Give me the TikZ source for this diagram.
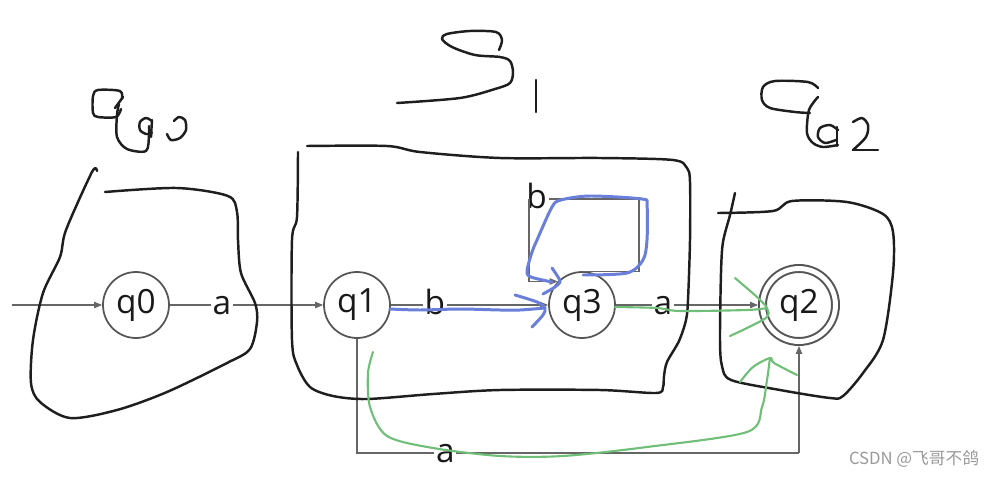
\documentclass[tikz,border=0pt]{standalone}
\usepackage{fontspec}
\setmainfont{Open Sans}
\newfontfamily\cjk{Noto Sans CJK SC}
\usetikzlibrary{arrows.meta}

\definecolor{stgray}{HTML}{555555}
\definecolor{penblue}{HTML}{6A7FD9}
\definecolor{pengreen}{HTML}{6FBF78}
\definecolor{penblack}{HTML}{1E1E1E}

\begin{document}
\begin{tikzpicture}[
    x=0.02cm, y=-0.02cm,
    st/.style={draw=stgray, circle, line width=1pt, minimum size=1.32cm, inner sep=0pt, font=\fontsize{19}{21}\selectfont, text=black!90},
    acc/.style={st, line width=1.15pt, double, double distance=2.8pt, minimum size=1.46cm, outer sep=2.55pt},
    tr/.style={draw=stgray!90, line width=0.6pt, -{Triangle[length=4.5pt,width=3.6pt]}},
    lbl/.style={fill=white, inner sep=1pt, text height=0.73em, text depth=0pt, yshift=-0.06cm, font=\fontsize{19}{21}\selectfont, text=black!90},
    pen/.style={draw=penblack, line width=1.4pt, line cap=round, line join=round},
    bpen/.style={draw=penblue, line width=1.7pt, line cap=round, line join=round},
    gpen/.style={draw=pengreen, line width=1.2pt, line cap=round, line join=round}
]
    \useasboundingbox (0,0) rectangle (998,477);

    \node[st] (q0) at (136,305) {q0};
    \node[st] (q1) at (357,305) {q1};
    \node[st] (q3) at (582,305) {q3};
    \node[acc] (q2) at (799,305) {q2};

    \coordinate (start) at (12,305);
    \coordinate (lpR) at (639,199);
    \coordinate (lpL) at (529,199);
    \coordinate (bot) at (799,453);

    \draw[tr] (start) -- (q0);
    \draw[tr] (q0) -- node[lbl, pos=0.34] {a} (q1);
    \draw[tr] (q1) -- node[lbl, pos=0.28] {b} (q3);
    \draw[tr] (q3) -- node[lbl, pos=0.33] {a} (q2);
    \draw[tr, -] (q3.north) -| (lpR) -- node[lbl, pos=0.93] {b} (lpL);
    \draw[tr] (lpL) |- (q3.136);
    \draw[tr, -] (q1.south) |- node[lbl, pos=0.6] {a} (bot);
    \draw[tr] (bot) -- (q2.south);

    % hand-drawn regions
    \draw[pen] plot[smooth] coordinates {(105,192) (177,188) (228,196) (237,212) (238,240) (241,273) (255,303) (257,322) (250,349) (227,363) (167,392) (117,410) (70,418) (40,402) (31,383) (33,340) (43,293) (60,257) (66,230) (92,172) (97,171)};
    \draw[pen] plot[smooth] coordinates {(307,146) (387,146) (420,152) (500,158) (600,158) (673,160) (687,168) (690,182) (690,240) (688,300) (686,320) (679,341) (667,362) (664,376) (663,387) (656,393) (600,390) (500,390) (433,394) (367,399) (333,396) (310,387) (297,365) (292,340) (292,240) (297,217) (298,152)};
    \draw[pen] plot[smooth] coordinates {(735,193) (730,215) (723,242) (721,273) (720,340) (722,366) (731,380) (780,390) (830,398) (843,396) (863,373) (883,340) (893,273) (893,232) (883,214) (847,202) (792,201) (773,211) (718,213)};

    % hand-drawn names
    \draw[pen] plot[smooth] coordinates {(122,99) (120,91) (98,90) (93,96) (93,113) (98,117) (116,117) (121,109)};
    \draw[pen] plot[smooth] coordinates {(123,97) (115,108)};
    \draw[pen] plot[smooth] coordinates {(119,104) (117,115) (117,137) (127,149) (146,151) (149,135) (149,126)};
    \draw[pen] plot[smooth] coordinates {(152,121) (146,118) (140,122) (140,130) (146,134) (152,133)};
    \draw[pen] (152,120) -- (151,137);
    \draw[pen] plot[smooth] coordinates {(167,134) (171,140) (180,138) (186,130) (185,120) (179,117) (174,121)};

    \draw[pen] plot[smooth] coordinates {(499,50) (502,40) (496,32) (470,31) (447,34) (442,39) (452,47) (475,55) (500,57) (510,61) (513,72) (510,83) (495,89) (460,98) (397,103)};
    \draw[pen] (536,80) -- (536,112);

    \draw[pen] plot[smooth] coordinates {(818,88) (808,82) (775,81) (763,87) (762,100) (770,108) (795,112) (810,113)};
    \draw[pen] plot[smooth] coordinates {(818,97) (809,110) (807,133) (813,143) (823,147) (838,145)};
    \draw[pen] plot[smooth] coordinates {(838,130) (830,125) (820,128) (818,137) (825,143) (836,140)};
    \draw[pen] (837,127) -- (837,146);
    \draw[pen] plot[smooth] coordinates {(853,122) (862,118) (868,125) (866,137) (853,150)};
    \draw[pen] (853,150) -- (878,150);

    % blue: reading b
    \draw[bpen] plot[smooth] coordinates {(390,309) (420,310) (460,309) (500,310) (520,310) (545,308)};
    \draw[bpen] plot[smooth] coordinates {(515,295) (537,302) (545,308) (543,315) (532,327)};
    \draw[bpen] plot[smooth] coordinates {(583,275) (627,273) (643,260) (647,240) (647,205) (642,199) (590,196) (561,200) (552,207) (537,240) (532,252) (527,271) (531,277) (552,282)};
    \draw[bpen] plot[smooth] coordinates {(552,268) (558,277) (560,282) (555,287) (543,294)};

    % green: reading a
    \draw[gpen] plot[smooth] coordinates {(615,307) (657,308) (680,311) (747,310) (767,308)};
    \draw[gpen] plot[smooth] coordinates {(735,278) (757,297) (767,308) (767,317) (747,328) (730,336)};
    \draw[gpen] plot[smooth] coordinates {(373,352) (368,373) (370,407) (387,436) (433,448) (500,456) (563,456) (647,447) (747,432) (762,407) (767,380) (770,358)};
    \draw[gpen] plot[smooth] coordinates {(740,382) (753,367) (770,358) (774,363) (797,375)};

    \node[text=black!40, font=\cjk\fontsize{9.5}{11}\selectfont] (mark) at (914,459) {CSDN @飞哥不鸽};
\end{tikzpicture}
\end{document}
